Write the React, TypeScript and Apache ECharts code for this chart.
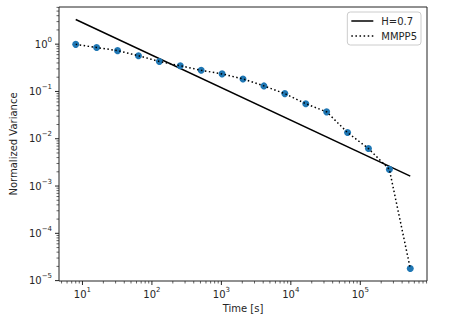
import React, { useEffect, useRef } from "react";
import * as echarts from "echarts";

// Aggregation time scales (seconds) and normalized variance of the MMPP5 trace
const times = [8, 16, 32, 64, 128, 256, 512, 1024, 2048, 4096, 8192, 16384, 32768, 65536, 131072, 262144, 524288];
const mmpp5 = [0.99, 0.85, 0.73, 0.57, 0.43, 0.35, 0.28, 0.235, 0.184, 0.131, 0.09, 0.055, 0.037, 0.0135, 0.0062, 0.00225, 1.8e-5];

// Reference self-similar decay for H = 0.7 (end points)
const refTimes = [8, 524288];
const refValues = [3.33, 1.62e-3];

const FONT = "DejaVu Sans";
const TEXT = "#262626";

// Legend swatches: a solid stroke and a dotted stroke
const SOLID_ICON = "path://M0 0H22V1.5H0Z";
const DOTTED_ICON =
  "path://M0 0H1.5V1.5H0Z M4 0H5.5V1.5H4Z M8 0H9.5V1.5H8Z M12 0H13.5V1.5H12Z M16 0H17.5V1.5H16Z M20 0H21.5V1.5H20Z";

// 5% log-space margin on each side of the data range
function logExtent(vals: number[]): [number, number] {
  const lo = Math.log10(Math.min(...vals));
  const hi = Math.log10(Math.max(...vals));
  const m = (hi - lo) * 0.05;
  return [Math.pow(10, lo - m), Math.pow(10, hi + m)];
}

const SUP: Record<string, string> = { "-": "\u2212" };

function decadeLabel(v: number): string {
  const e = Math.log10(v);
  const r = Math.round(e);
  if (Math.abs(e - r) > 1e-6) return "";
  const exp = String(r).split("").map((c) => SUP[c] || c).join("");
  return `{b|10}{s|${exp}}`;
}

const richLabel = {
  b: { fontFamily: FONT, fontSize: 10, color: TEXT, lineHeight: 16, verticalAlign: "middle" },
  s: { fontFamily: FONT, fontSize: 7, color: TEXT, lineHeight: 8, verticalAlign: "top" },
};

function decadesWithin(lo: number, hi: number) {
  const major: number[] = [];
  const minor: number[] = [];
  for (let k = Math.floor(Math.log10(lo)); k <= Math.ceil(Math.log10(hi)); k++) {
    const base = Math.pow(10, k);
    if (base >= lo && base <= hi) major.push(base);
    for (let m = 2; m <= 9; m++) {
      const v = m * base;
      if (v >= lo && v <= hi) minor.push(v);
    }
  }
  return { major, minor };
}

export default function App() {
  const ref = useRef<HTMLDivElement>(null);

  useEffect(() => {
    if (!ref.current) return;
    const chart = echarts.init(ref.current, undefined, { renderer: "svg" });

    const [xMin, xMax] = logExtent(times);
    const [yMin, yMax] = logExtent([...mmpp5, ...refValues]);
    const xt = decadesWithin(xMin, xMax);
    const yt = decadesWithin(yMin, yMax);

    chart.setOption({
      animation: false,
      backgroundColor: "#ffffff",
      textStyle: { fontFamily: FONT },
      grid: {
        left: 59,
        right: 47,
        top: 7,
        bottom: 39,
        show: true,
        borderColor: "#222",
        borderWidth: 1,
        backgroundColor: "transparent",
      },
      legend: {
        orient: "vertical",
        right: 53,
        top: 12,
        padding: [4, 4, 4, 4],
        itemWidth: 22,
        itemHeight: 10,
        itemGap: 5,
        backgroundColor: "rgba(255,255,255,0.8)",
        borderColor: "#cccccc",
        borderWidth: 1,
        borderRadius: 3,
        data: [
          { name: "H=0.7", icon: SOLID_ICON },
          { name: "MMPP5", icon: DOTTED_ICON },
        ],
        textStyle: { fontFamily: FONT, fontSize: 10, color: TEXT, padding: [0, 0, 0, 3] },
      },
      xAxis: {
        type: "log",
        min: xMin,
        max: xMax,
        logBase: 10,
        name: "Time [s]",
        nameLocation: "middle",
        nameGap: 20,
        nameTextStyle: { fontFamily: FONT, fontSize: 10, color: TEXT },
        axisLine: { show: false },
        axisTick: { show: false },
        splitLine: { show: false },
        axisLabel: {
          margin: 5,
          formatter: decadeLabel,
          rich: richLabel,
          showMinLabel: false,
          showMaxLabel: false,
        },
      },
      yAxis: {
        type: "log",
        min: yMin,
        max: yMax,
        logBase: 10,
        name: "Normalized Variance",
        nameLocation: "middle",
        nameGap: 40,
        nameTextStyle: { fontFamily: FONT, fontSize: 10, color: TEXT },
        axisLine: { show: false },
        axisTick: { show: false },
        splitLine: { show: false },
        axisLabel: {
          margin: 7,
          formatter: decadeLabel,
          rich: richLabel,
          showMinLabel: false,
          showMaxLabel: false,
        },
      },
      series: [
        {
          // major and minor tick marks on the log axes
          type: "custom",
          silent: true,
          clip: false,
          data: [[10, 1]],
          renderItem: (params: any, api: any) => {
            const cs = params.coordSys;
            const bottom = cs.y + cs.height;
            const left = cs.x;
            const children: any[] = [];
            const tick = (x1: number, y1: number, x2: number, y2: number, w: number) =>
              children.push({
                type: "line",
                shape: { x1, y1, x2, y2 },
                style: { stroke: "#222", lineWidth: w },
              });
            xt.major.forEach((v) => {
              const p = api.coord([v, yMin]);
              tick(p[0], bottom, p[0], bottom + 4, 1);
            });
            xt.minor.forEach((v) => {
              const p = api.coord([v, yMin]);
              tick(p[0], bottom, p[0], bottom + 2.5, 0.7);
            });
            yt.major.forEach((v) => {
              const p = api.coord([xMin, v]);
              tick(left, p[1], left - 4, p[1], 1);
            });
            yt.minor.forEach((v) => {
              const p = api.coord([xMin, v]);
              tick(left, p[1], left - 2.5, p[1], 0.7);
            });
            return { type: "group", children };
          },
          z: 1,
        },
        {
          name: "H=0.7",
          type: "line",
          data: refTimes.map((t, i) => [t, refValues[i]]),
          symbol: "none",
          lineStyle: { color: "#000", width: 1.5 },
          itemStyle: { color: "#000" },
          z: 3,
        },
        {
          name: "MMPP5 samples",
          type: "scatter",
          data: times.map((t, i) => [t, mmpp5[i]]),
          symbolSize: 7,
          itemStyle: { color: "#1f77b4", opacity: 1 },
          z: 4,
        },
        {
          name: "MMPP5",
          type: "line",
          data: times.map((t, i) => [t, mmpp5[i]]),
          symbol: "none",
          lineStyle: { color: "#000", width: 1.5, type: [1.5, 2.5] },
          itemStyle: { color: "#000" },
          z: 5,
        },
      ],
    });

    return () => chart.dispose();
  }, []);

  return <div ref={ref} style={{ width: 474, height: 320, position: "absolute", left: 0, top: 0 }} />;
}
